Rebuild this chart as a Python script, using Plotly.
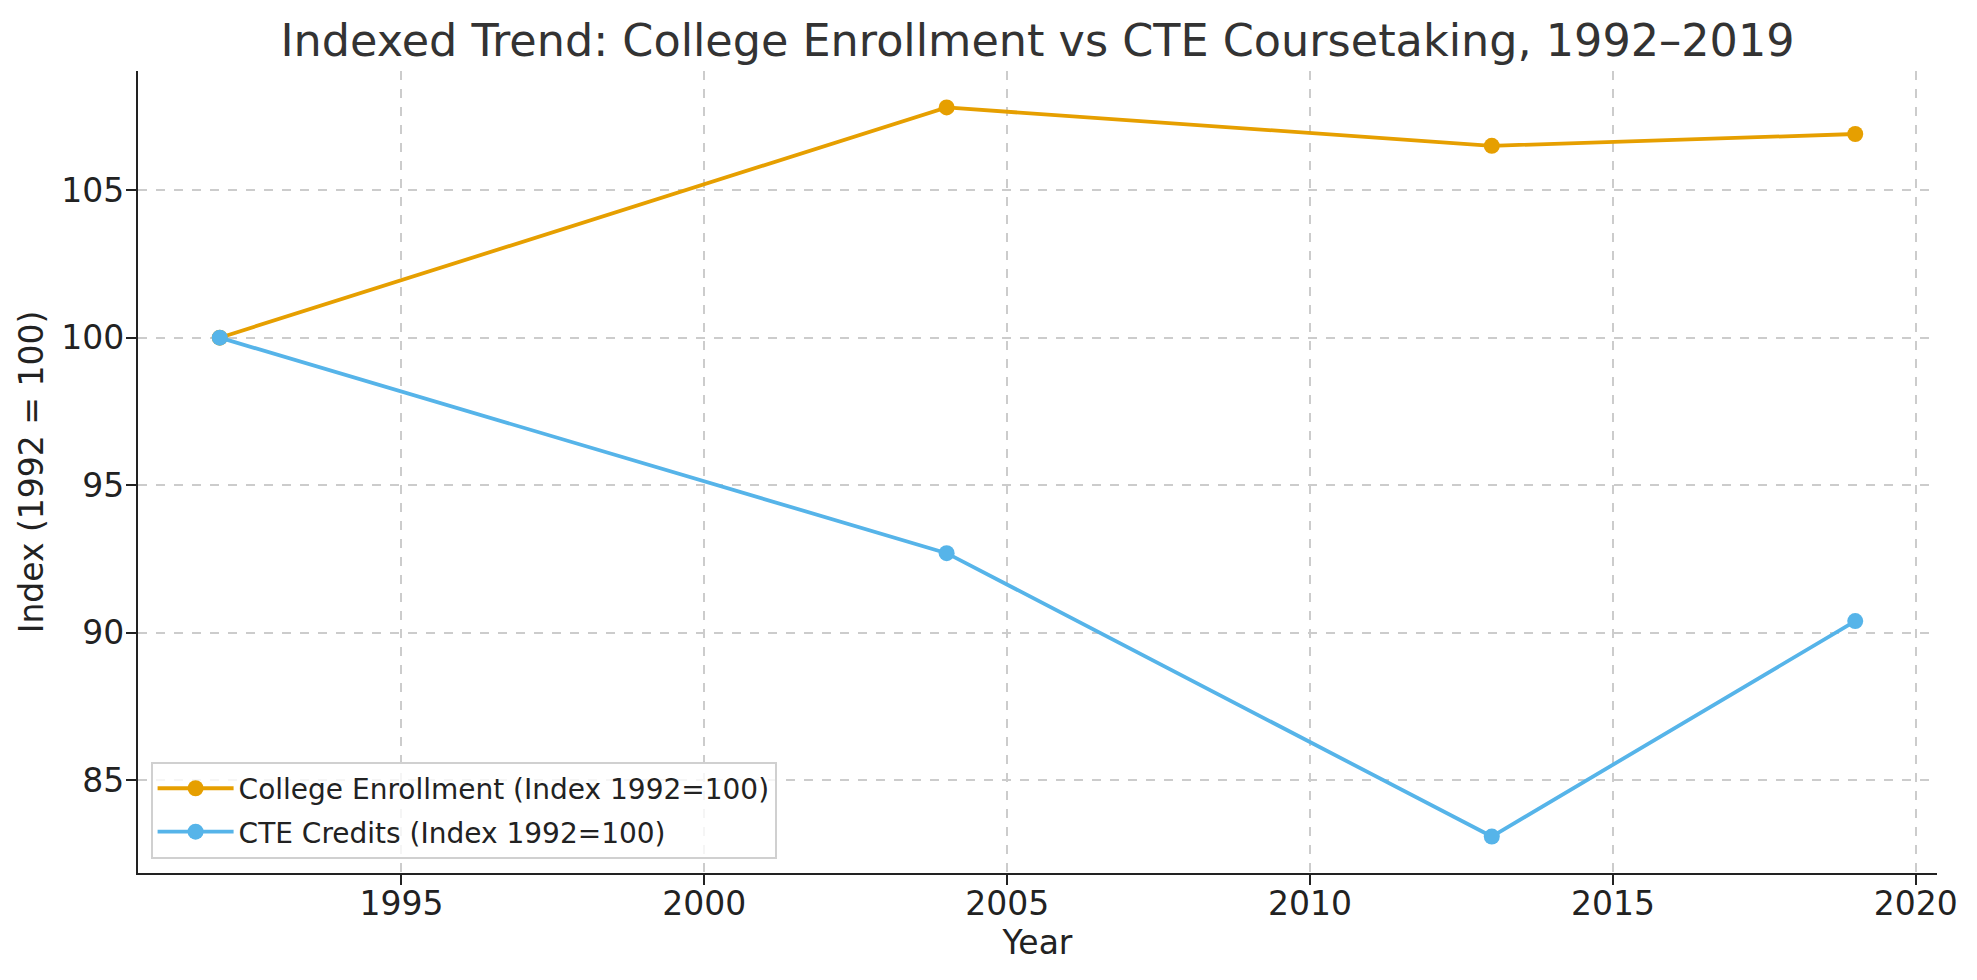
import plotly.graph_objects as go

years = [1992, 2004, 2013, 2019]
college_index = [100.0, 107.8, 106.5, 106.9]
cte_index = [100.0, 92.7, 83.1, 90.4]
series_names = ["College Enrollment (Index 1992=100)", "CTE Credits (Index 1992=100)"]
x_ticks = [1995, 2000, 2005, 2010, 2015, 2020]
y_ticks = [85, 90, 95, 100, 105]

ORANGE = "#E69F00"
BLUE = "#56B4E9"
FONT = "DejaVu Sans"

fig = go.Figure()
for name, vals, col in [(series_names[0], college_index, ORANGE), (series_names[1], cte_index, BLUE)]:
    fig.add_trace(go.Scatter(
        x=years, y=vals, name=name, mode="lines+markers",
        line=dict(color=col, width=3.8),
        marker=dict(color=col, size=16),
        legendgroup=name,
    ))

xmin, xmax = min(years), max(years)
xpad = (xmax - xmin) * 0.05
allv = college_index + cte_index
ymin, ymax = min(allv), max(allv)
ypad = (ymax - ymin) * 0.05


def axis_style(tickvals):
    return dict(
        tickvals=tickvals,
        showline=True, linecolor="#222222", linewidth=2.4, mirror=False,
        ticks="outside", ticklen=0, tickwidth=2, tickcolor="#222222",
        minor=dict(tickvals=tickvals, ticks="outside", ticklen=10, tickwidth=2,
                   tickcolor="#222222", showgrid=False),
        showgrid=True, gridcolor="#cccccc", griddash="dash", gridwidth=1.5,
        zeroline=False,
        tickfont=dict(family=FONT, size=33, color="#222222"),
    )


fig.update_layout(
    width=1977, height=980,
    paper_bgcolor="white", plot_bgcolor="white",
    margin=dict(l=138, r=40, t=71, b=107, autoexpand=False),
    title=dict(
        text="Indexed Trend: College Enrollment vs CTE Coursetaking, 1992–2019",
        x=0.5, xref="paper", xanchor="center",
        y=1 - 40 / 980, yref="container", yanchor="middle",
        font=dict(family=FONT, size=44.5, color="#333333"),
    ),
    xaxis=dict(
        range=[xmin - xpad, xmax + xpad],
        title=dict(text="Year", standoff=9, font=dict(family=FONT, size=33, color="#222222")),
        **axis_style(x_ticks),
    ),
    yaxis=dict(
        range=[ymin - ypad, ymax + ypad],
        ticklabelstandoff=5,
        title=dict(text="Index (1992 = 100)", standoff=8, font=dict(family=FONT, size=33, color="#222222")),
        **axis_style(y_ticks),
    ),
    legend=dict(
        x=0.007, y=0.018, xanchor="left", yanchor="bottom",
        bgcolor="rgba(255,255,255,0.8)", bordercolor="#d0d0d0", borderwidth=2,
        font=dict(family=FONT, size=28, color="#222222"),
        tracegroupgap=4, itemwidth=76,
    ),
    showlegend=True,
)

fig.write_html("out.html")
